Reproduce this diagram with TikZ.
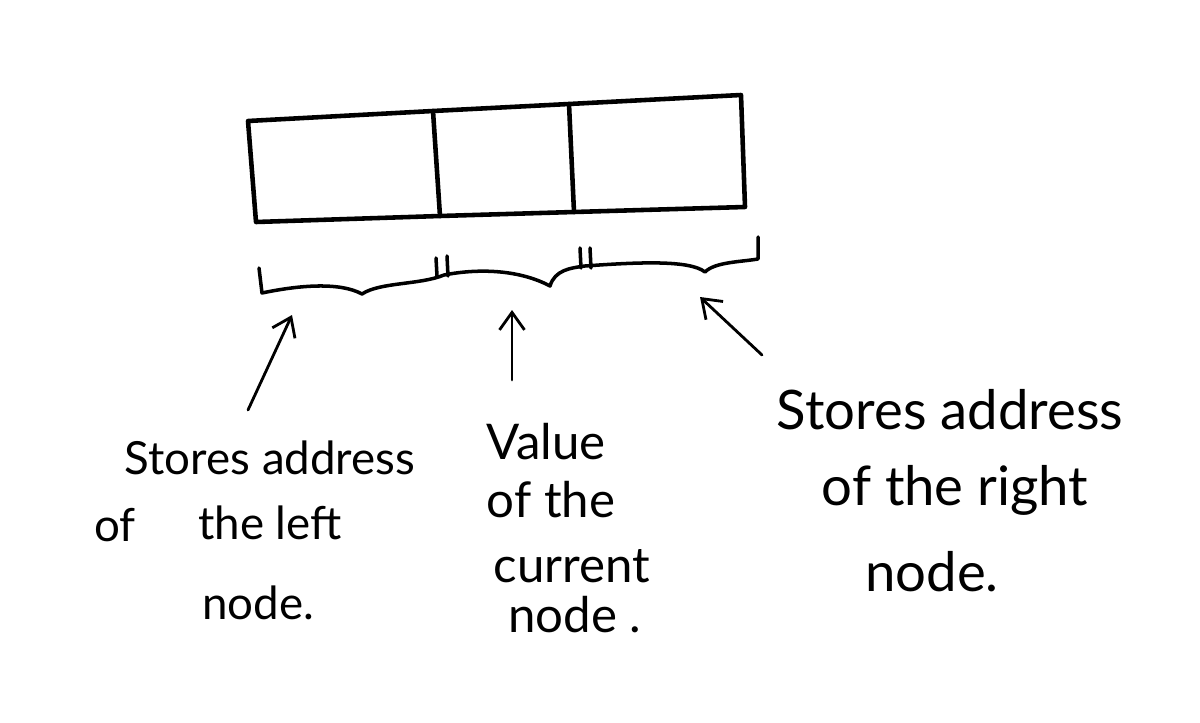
\documentclass[tikz,border=0pt]{standalone}
\usepackage{fontspec}
\setmainfont{Lato}
\usetikzlibrary{arrows.meta}
\begin{document}
\begin{tikzpicture}[x=0.02cm,y=-0.02cm,
  ink/.style={line width=2.6pt,line cap=round,line join=round},
  thin ink/.style={line width=2pt,line cap=round,line join=round},
  pointer/.style={line width=1.6pt,line cap=round,-{Straight Barb[length=3.5mm,width=5mm,line width=1.6pt]}},
  lbl/.style={inner sep=0pt,font=\fontsize{26}{30}\selectfont},
  mlbl/.style={inner sep=0pt,font=\fontsize{28}{32}\selectfont},
  rlbl/.style={inner sep=0pt,font=\fontsize{31}{36}\selectfont}]
\useasboundingbox (0,0) rectangle (1200,723);
% box corners
\coordinate (tl) at (248,121);
\coordinate (tr) at (741,95);
\coordinate (br) at (745,207);
\coordinate (bl) at (256,222);
\coordinate (d1t) at (433,111);
\coordinate (d1b) at (440,216);
\coordinate (d2t) at (569,104);
\coordinate (d2b) at (574,212);
\draw[ink] (tl) -- (d1t) -- (d2t) -- (tr) -- (br) -- (d2b) -- (d1b) -- (bl) -- cycle;
\draw[ink] (d1t) -- (d1b);
\draw[ink] (d2t) -- (d2b);
% braces
\coordinate (b0) at (259,268);
\coordinate (b1) at (262,293);
\coordinate (c1) at (362,294);
\coordinate (b2) at (444,275);
\coordinate (c2) at (550,286);
\coordinate (b3) at (585,266);
\coordinate (c3) at (705,272);
\coordinate (b4) at (758,259);
\coordinate (b5) at (758,237);
\draw[thin ink] (b0) -- (b1) .. controls (300,285) and (340,282) .. (c1)
  .. controls (380,282) and (420,285) .. (b2)
  .. controls (480,268) and (520,270) .. (c2)
  .. controls (555,270) and (570,268) .. (b3)
  .. controls (640,262) and (690,260) .. (c3)
  .. controls (715,262) and (740,262) .. (b4) -- (b5);
\draw[thin ink] (436,258) -- (437,276);
\draw[thin ink] (447,256) -- (448,276);
\draw[thin ink] (580,248) -- (581,268);
\draw[thin ink] (590,248) -- (591,268);
% pointer tips
\coordinate (pL) at (292,315);
\coordinate (pM) at (512,310);
\coordinate (pR) at (700,297);
% left label
\node[lbl] (l1) at (270,458) {Stores address};
\node[lbl] (l2a) at (115,525) {of};
\node[lbl] (l2b) at (270,523) {the left};
\node[lbl] (l3) at (258,603) {node.};
% middle label
\node[mlbl] (m1) at (546,442) {Value};
\node[mlbl] (m2) at (551,500) {of the};
\node[mlbl] (m3) at (572,566) {current};
\node[mlbl] (m4) at (575,615) {node .};
% right label
\node[rlbl] (r1) at (950,410) {Stores address};
\node[rlbl] (r2) at (955,490) {of the right};
\node[rlbl] (r3) at (932,572) {node.};
% arrows
\coordinate (sL) at (248,410);
\coordinate (sM) at (512,380);
\coordinate (sR) at (762,355);
\draw[pointer] (sL) -- (pL);
\draw[pointer] (sM) -- (pM);
\draw[pointer] (sR) -- (pR);
\end{tikzpicture}
\end{document}
